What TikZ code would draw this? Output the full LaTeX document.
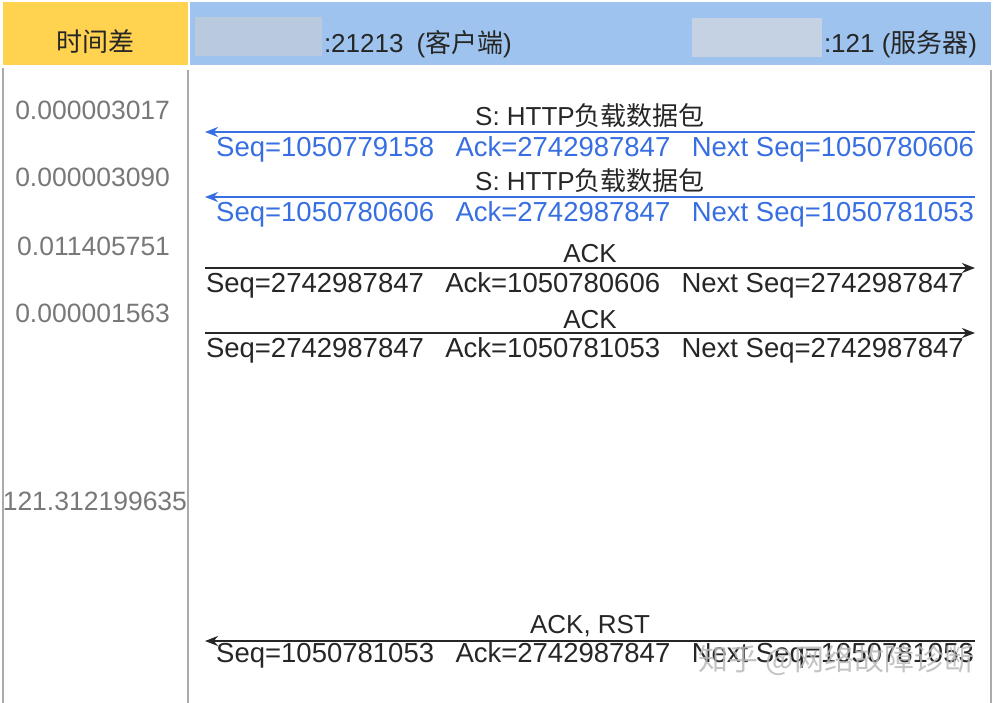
\documentclass[tikz,border=0pt]{standalone}
\usepackage{fontspec}
\setmainfont{Liberation Sans}
\newfontfamily\cjk{Noto Sans CJK SC}
\usetikzlibrary{arrows.meta, calc}

\definecolor{hdryellow}{RGB}{255,210,80}
\definecolor{hdrblue}{RGB}{157,195,238}
\definecolor{blurbox}{RGB}{186,202,222}
\definecolor{pktblue}{RGB}{55,110,225}
\definecolor{timegray}{RGB}{120,120,120}
\definecolor{rulegray}{RGB}{170,170,170}

\newcommand\gap{\hspace{0.78em}}

\begin{document}
\begin{tikzpicture}[x=1pt,y=-1pt,>={Stealth[length=13pt,width=10pt]},line width=2pt,
    every node/.style={inner sep=0pt},
    hdr/.style={font=\fontsize{26}{28}\selectfont, text=black!85, anchor=base west},
    tval/.style={font=\fontsize{26.5}{28}\selectfont, text=timegray, anchor=base east},
    ttl/.style={font=\fontsize{26}{28}\selectfont, text=black!85, anchor=base},
    sq/.style={font=\fontsize{27.5}{29}\selectfont},
    pkt/.style={->, pktblue, line width=2.5pt},
    ack/.style={->, black!85, line width=2.5pt}]

    \useasboundingbox (0,0) rectangle (998,703);

    % header row
    \fill[hdryellow] (3,2) rectangle (188,65);
    \fill[hdrblue] (190,2) rectangle (991,65);
    \fill[blurbox] (195,17) rectangle (322,56);
    \fill[blurbox!85!white] (692,18) rectangle (822,57);
    \node[hdr, anchor=base] (H0) at (95,52) {\cjk 时间差};
    \node[hdr] (H1) at (323,53) {:21213\hspace{0.5em}({\cjk 客户端})};
    \node[hdr] (H2) at (823,53) {:121 ({\cjk 服务器})};

    % column rules
    \draw[rulegray] (3,68) -- (3,703);
    \draw[rulegray] (188,70) -- (188,703);
    \draw[rulegray] (991,70) -- (991,703);

    % time deltas
    \node[tval] (T1) at (171,120) {0.000003017};
    \node[tval] (T2) at (171,187) {0.000003090};
    \node[tval] (T3) at (171,255) {0.011405751};
    \node[tval] (T4) at (171,322) {0.000001563};
    \node[tval] (T5) at (188,510) {121.312199635};

    % client / server ends
    \coordinate (c1) at (205,132);  \coordinate (s1) at (975,132);
    \coordinate (c2) at (205,197);  \coordinate (s2) at (975,197);
    \coordinate (c3) at (205,268);  \coordinate (s3) at (975,268);
    \coordinate (c4) at (205,333);  \coordinate (s4) at (975,333);
    \coordinate (c5) at (205,641);  \coordinate (s5) at (975,641);

    \draw[pkt] (s1) -- (c1);
    \draw[pkt] (s2) -- (c2);
    \draw[ack] (c3) -- (s3);
    \draw[ack] (c4) -- (s4);
    \draw[ack] (s5) -- (c5);

    \node[ttl] (L1) at ([yshift=6pt]$(c1)!0.5!(s1)$) {S: HTTP{\cjk 负载数据包}};
    \node[ttl] (L2) at ([yshift=6pt]$(c2)!0.5!(s2)$) {S: HTTP{\cjk 负载数据包}};
    \node[ttl] (L3) at ([yshift=5pt]$(c3)!0.5!(s3)$) {ACK};
    \node[ttl] (L4) at ([yshift=5pt]$(c4)!0.5!(s4)$) {ACK};
    \node[ttl] (L5) at ([yshift=8pt]$(c5)!0.5!(s5)$) {ACK, RST};

    \node[sq, text=pktblue, anchor=base east] (Q1) at ([yshift=-25pt]s1)
        {Seq=1050779158\gap Ack=2742987847\gap Next Seq=1050780606};
    \node[sq, text=pktblue, anchor=base east] (Q2) at ([yshift=-25pt]s2)
        {Seq=1050780606\gap Ack=2742987847\gap Next Seq=1050781053};
    \node[sq, text=black!85, anchor=base west] (Q3) at ([yshift=-24pt]c3)
        {Seq=2742987847\gap Ack=1050780606\gap Next Seq=2742987847};
    \node[sq, text=black!85, anchor=base west] (Q4) at ([yshift=-24pt]c4)
        {Seq=2742987847\gap Ack=1050781053\gap Next Seq=2742987847};
    \node[sq, text=black!85, anchor=base east] (Q5) at ([yshift=-21pt]s5)
        {Seq=1050781053\gap Ack=2742987847\gap Next Seq=1050781053};

    % watermark
    \node[font=\cjk\fontsize{30}{32}\selectfont, text=gray!55, opacity=0.85, anchor=base east] (W) at (975,670) {知乎 @网络故障诊断};
\end{tikzpicture}
\end{document}
